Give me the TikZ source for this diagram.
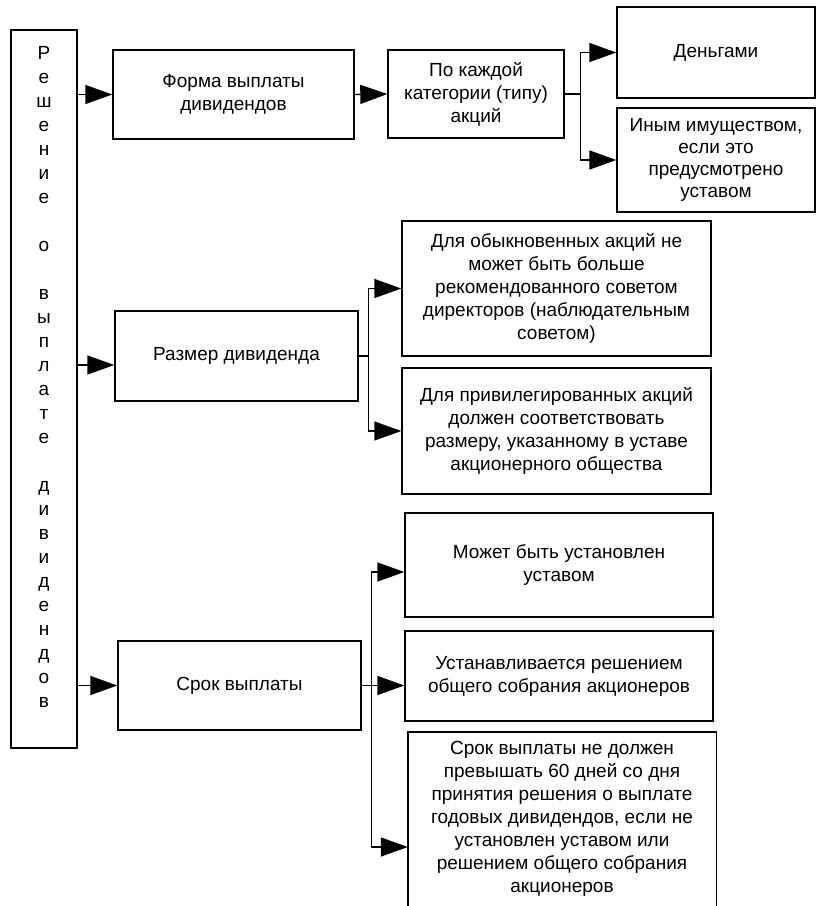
\documentclass[tikz,border=0pt]{standalone}
\usepackage{fontspec}
\setmainfont{Liberation Sans}
\usetikzlibrary{arrows.meta}
\begin{document}
\begin{tikzpicture}[x=1pt,y=-1pt,
  box/.style={draw, line width=1.4pt, align=center, inner sep=0pt, font=\fontsize{19}{23}\selectfont},
  opentext/.style={align=center, inner sep=0pt, font=\fontsize{19}{23}\selectfont},
  arr/.style={-{Triangle[length=27pt,width=19pt]}, line width=1.4pt},
  conn/.style={line width=1.4pt}]
\useasboundingbox[fill=white] (0,0) rectangle (826,906);

% left tall box
\node[draw, line width=1.4pt, minimum width=66pt, minimum height=718pt, inner sep=0pt] (L) at (44,389) {};
\node[align=center, inner sep=0pt, font=\fontsize{19}{24}\selectfont] (Lt) at (44,377)
 {Р\\е\\ш\\е\\н\\и\\е\\\strut\\о\\\strut\\в\\ы\\п\\л\\а\\т\\е\\\strut\\д\\и\\в\\и\\д\\е\\н\\д\\о\\в};

% row 1
\node[box, minimum width=241pt, minimum height=89pt] (F) at (233.5,94.5) {Форма выплаты\\дивидендов};
\node[box, minimum width=176pt, minimum height=88pt] (P) at (476,94) {По каждой\\категории (типу)\\акций};
\node[box, minimum width=198pt, minimum height=91pt] (D1) at (716,52.5) {Деньгами};
\node[box, minimum width=198pt, minimum height=104pt, font=\fontsize{19}{22}\selectfont] (D2) at (716,160) {Иным имуществом,\\если это\\предусмотрено\\уставом};

% row 2
\node[box, minimum width=243pt, minimum height=90pt] (R) at (236.5,356) {Размер дивиденда};
\node[box, minimum width=309pt, minimum height=135pt] (R1) at (556.5,288.5) {Для обыкновенных акций не\\может быть больше\\рекомендованного советом\\директоров (наблюдательным\\советом)};
\node[box, minimum width=309pt, minimum height=126pt] (R2) at (556.5,431) {Для привилегированных акций\\должен соответствовать\\размеру, указанному в уставе\\акционерного общества};

% row 3
\node[box, minimum width=243pt, minimum height=89pt] (S) at (239.5,685.5) {Срок выплаты};
\node[box, minimum width=308pt, minimum height=104pt] (S1) at (559,565) {Может быть установлен\\уставом};
\node[box, minimum width=308pt, minimum height=90pt] (S2) at (559,676) {Устанавливается решением\\общего собрания акционеров};
\node[opentext, minimum width=308pt, minimum height=174pt] (S3) at (562,819) {Срок выплаты не должен\\превышать 60 дней со дня\\принятия решения о выплате\\годовых дивидендов, если не\\установлен уставом или\\решением общего собрания\\акционеров};
\draw[conn] (S3.south west) -- (S3.north west) -- (S3.north east) -- (S3.south east);

% connectors row 1
\draw[arr] (L.east |- F.west) -- (F.west);
\draw[arr] (F.east) -- (P.west);
\coordinate (pj) at ([xshift=16pt]P.east);
\draw[conn] (P.east) -- (pj);
\draw[arr] (pj) |- (D1.west);
\draw[arr] (pj) |- (D2.west);

% connectors row 2
\coordinate (rin) at ([yshift=-9pt]R.west);
\draw[arr] (L.east |- rin) -- (rin);
\coordinate (rj) at ([xshift=10pt]R.east);
\draw[conn] (R.east) -- (rj);
\draw[arr] (rj) |- (R1.west);
\draw[arr] (rj) |- (R2.west);

% connectors row 3
\draw[arr] (L.east |- S.west) -- (S.west);
\coordinate (sj) at ([xshift=10pt]S.east);
\coordinate (s1in) at ([yshift=-7pt]S1.west);
\coordinate (s3in) at ([yshift=-28pt]S3.west);
\draw[conn] (S.east) -- (sj);
\draw[arr] (sj) |- (s1in);
\draw[arr] (sj) -- (sj -| S2.west);
\draw[arr] (sj) |- (s3in);
\end{tikzpicture}
\end{document}
